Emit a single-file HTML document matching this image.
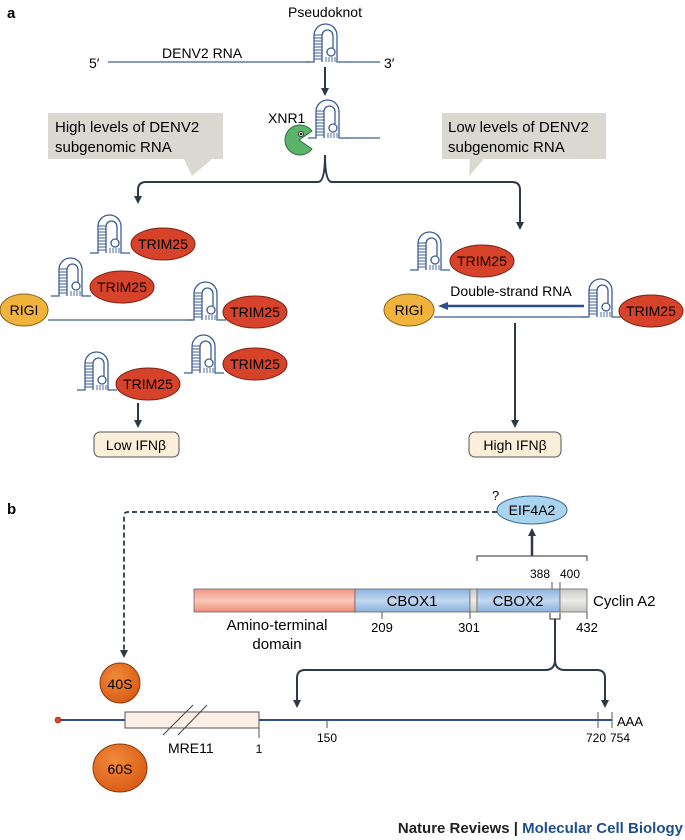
<!DOCTYPE html>
<html><head><meta charset="utf-8"><style>
html,body{margin:0;padding:0;background:#fff;}
svg{display:block;font-family:"Liberation Sans",sans-serif;}
</style></head><body>
<svg width="685" height="840" viewBox="0 0 685 840" xmlns="http://www.w3.org/2000/svg">
<defs>
<g id="pk" fill="none" stroke="#3d5d95" stroke-width="1.3">
<path d="M-6,0 L2,0 L2,-26.5 A11.5,11.5 0 0 1 25,-26.5 L25,0 L34,0"/>
<path d="M10,0 L10,-26.5 A5.5,5.5 0 0 1 21,-26.5 L21,-14"/>
<circle cx="19" cy="-10" r="4" fill="#fff"/>
<path d="M2,-3H10M2,-6H10M2,-9H10M2,-12H10M2,-15H10M2,-18H10M2,-21H10M2,-24H10M2,-27H10M14,0V-5M17,0V-5M20,0V-5M23,0V-5" stroke-width="0.9"/>
</g>
<marker id="ah" markerWidth="8" markerHeight="8" refX="6" refY="4" orient="auto" markerUnits="userSpaceOnUse">
<path d="M0,0 L8,4 L0,8 Z" fill="#2b3a48"/></marker>
<marker id="ahb" markerWidth="10" markerHeight="8" refX="2" refY="4" orient="auto" markerUnits="userSpaceOnUse">
<path d="M0,0 L10,4 L0,8 Z" fill="#2d4f8c"/></marker>
</defs>

<!-- panel a -->
<text x="7" y="18" font-size="15" font-weight="bold">a</text>
<text x="325" y="17" font-size="14" text-anchor="middle">Pseudoknot</text>
<text x="162" y="58" font-size="14">DENV2 RNA</text>
<text x="89" y="68" font-size="14">5′</text>
<text x="384" y="68" font-size="14">3′</text>
<line x1="108" y1="62" x2="310" y2="62" stroke="#3d5d95" stroke-width="1.3"/>
<use href="#pk" x="312" y="62"/>
<line x1="345" y1="62" x2="380" y2="62" stroke="#3d5d95" stroke-width="1.3"/>
<line x1="325" y1="67" x2="325" y2="94" stroke="#2b3a48" stroke-width="2" marker-end="url(#ah)"/>
<use href="#pk" x="314" y="138"/>
<line x1="346" y1="138" x2="380" y2="138" stroke="#3d5d95" stroke-width="1.3"/>
<text x="268" y="123" font-size="14">XNR1</text>
<path d="M299,140 L312,131 A15,15 0 1 0 312,149 Z" fill="#5cb46a" stroke="#2f6b3a" stroke-width="1"/>
<circle cx="301" cy="134" r="2.6" fill="#fff" stroke="#222" stroke-width="0.8"/><circle cx="301" cy="134" r="1.3" fill="#111"/>

<path d="M48,113 H223 V159 H212 L192,176 L184,159 H48 Z" fill="#d9d8d1"/>
<text x="55" y="132" font-size="15">High levels of DENV2</text>
<text x="55" y="152" font-size="15">subgenomic RNA</text>
<path d="M442,113 H606 V159 H484 L469,176 L470,159 H442 Z" fill="#d9d8d1"/>
<text x="448" y="132" font-size="15">Low levels of DENV2</text>
<text x="448" y="152" font-size="15">subgenomic RNA</text>

<path d="M325,155 Q325,182 318,182 H146 Q138,182 138,190 V202" fill="none" stroke="#2b3a48" stroke-width="2" marker-end="url(#ah)"/>
<path d="M325,155 Q325,182 332,182 H512 Q520,182 520,190 V228" fill="none" stroke="#2b3a48" stroke-width="2" marker-end="url(#ah)"/>

<!-- left group -->
<g font-size="14" text-anchor="middle">
<use href="#pk" x="96" y="253"/>
<ellipse cx="163" cy="244" rx="32" ry="16" fill="#d7432a" stroke="#7a2214"/><text x="163" y="249">TRIM25</text>
<use href="#pk" x="57" y="296"/>
<ellipse cx="122" cy="287" rx="32" ry="16" fill="#d7432a" stroke="#7a2214"/><text x="122" y="292">TRIM25</text>
<ellipse cx="24" cy="310" rx="24" ry="16" fill="#f2b33c" stroke="#8a6418"/><text x="24" y="315">RIGI</text>
<line x1="48" y1="320" x2="192" y2="320" stroke="#3d5d95" stroke-width="1.3"/>
<use href="#pk" x="192" y="320"/>
<ellipse cx="255" cy="312" rx="32" ry="16" fill="#d7432a" stroke="#7a2214"/><text x="255" y="317">TRIM25</text>
<use href="#pk" x="190" y="373"/>
<ellipse cx="255" cy="364" rx="32" ry="16" fill="#d7432a" stroke="#7a2214"/><text x="255" y="369">TRIM25</text>
<use href="#pk" x="83" y="390"/>
<ellipse cx="148" cy="384" rx="32" ry="16" fill="#d7432a" stroke="#7a2214"/><text x="148" y="389">TRIM25</text>
<line x1="138" y1="403" x2="138" y2="426" stroke="#2b3a48" stroke-width="2" marker-end="url(#ah)"/>
<rect x="94" y="432" width="85" height="25" rx="6" fill="#fcefd9" stroke="#555"/><text x="136" y="450">Low IFNβ</text>

<!-- right group -->
<use href="#pk" x="416" y="270"/>
<ellipse cx="482" cy="261" rx="32" ry="16" fill="#d7432a" stroke="#7a2214"/><text x="482" y="266">TRIM25</text>
<text x="511" y="296">Double-strand RNA</text>
<ellipse cx="409" cy="310" rx="25" ry="16" fill="#f2b33c" stroke="#8a6418"/><text x="409" y="315">RIGI</text>
<line x1="584" y1="306" x2="446" y2="306" stroke="#2d4f8c" stroke-width="2.5" marker-end="url(#ahb)"/>
<line x1="434" y1="317" x2="587" y2="317" stroke="#3d5d95" stroke-width="1.3"/>
<use href="#pk" x="587" y="317"/>
<ellipse cx="651" cy="311" rx="32" ry="16" fill="#d7432a" stroke="#7a2214"/><text x="651" y="316">TRIM25</text>
<line x1="515" y1="323" x2="515" y2="426" stroke="#2b3a48" stroke-width="2" marker-end="url(#ah)"/>
<rect x="469" y="432" width="92" height="25" rx="6" fill="#fcefd9" stroke="#555"/><text x="515" y="450">High IFNβ</text>
</g>

<!-- panel b -->
<text x="7" y="514" font-size="15" font-weight="bold">b</text>
<text x="492" y="500" font-size="13">?</text>
<path d="M497,512 H128 Q124,512 124,516 V652" fill="none" stroke="#2b3a48" stroke-width="1.8" stroke-dasharray="5,3"/>
<path d="M120,650 L124,658 L128,650 Z" fill="#2b3a48"/>
<ellipse cx="532" cy="510" rx="35" ry="14" fill="#a9d3ee" stroke="#3d6d95"/>
<text x="532" y="515" font-size="14" text-anchor="middle">EIF4A2</text>
<line x1="532" y1="556" x2="532" y2="530" stroke="#2b3a48" stroke-width="2.5" marker-end="url(#ah)"/>
<path d="M477,561 V556 H587 V561" fill="none" stroke="#555" stroke-width="1.2"/>
<text x="540" y="578" font-size="12" text-anchor="middle">388</text>
<text x="570" y="578" font-size="12" text-anchor="middle">400</text>
<line x1="552" y1="582" x2="552" y2="590" stroke="#555"/><line x1="560" y1="582" x2="560" y2="590" stroke="#555"/>
<defs>
<linearGradient id="gs" x1="0" y1="0" x2="0" y2="1"><stop offset="0" stop-color="#f29684"/><stop offset="0.5" stop-color="#fbc7b8"/><stop offset="1" stop-color="#ee8e7a"/></linearGradient>
<linearGradient id="gb" x1="0" y1="0" x2="0" y2="1"><stop offset="0" stop-color="#8cb3de"/><stop offset="0.5" stop-color="#c2d9f1"/><stop offset="1" stop-color="#8ab0dc"/></linearGradient>
<linearGradient id="gg" x1="0" y1="0" x2="0" y2="1"><stop offset="0" stop-color="#c9c9c4"/><stop offset="0.5" stop-color="#ececea"/><stop offset="1" stop-color="#c6c6c1"/></linearGradient>
<radialGradient id="go" cx="0.4" cy="0.35" r="0.7"><stop offset="0" stop-color="#f28a3a"/><stop offset="1" stop-color="#d85a14"/></radialGradient>
</defs>
<rect x="194" y="589" width="161" height="23" fill="url(#gs)" stroke="#666" stroke-width="0.8"/>
<rect x="355" y="589" width="115" height="23" fill="url(#gb)" stroke="#666" stroke-width="0.8"/>
<rect x="470" y="589" width="7" height="23" fill="url(#gg)" stroke="#666" stroke-width="0.8"/>
<rect x="477" y="589" width="83" height="23" fill="url(#gb)" stroke="#666" stroke-width="0.8"/>
<rect x="560" y="589" width="27" height="23" fill="url(#gg)" stroke="#666" stroke-width="0.8"/>
<g font-size="15" text-anchor="middle">
<text x="412" y="606">CBOX1</text><text x="518" y="606">CBOX2</text>
</g>
<text x="593" y="606" font-size="15">Cyclin A2</text>
<text x="277" y="630" font-size="15" text-anchor="middle">Amino-terminal</text>
<text x="277" y="649" font-size="15" text-anchor="middle">domain</text>
<g stroke="#555"><line x1="382" y1="612" x2="382" y2="619"/><line x1="470" y1="612" x2="470" y2="619"/><line x1="587" y1="612" x2="587" y2="619"/></g>
<g font-size="13" text-anchor="middle"><text x="382" y="632">209</text><text x="469" y="632">301</text><text x="587" y="632">432</text></g>
<path d="M550,613 V619 H560 V613" fill="none" stroke="#555" stroke-width="1.2"/>
<path d="M555,619 V660 Q555,670 545,670 H305 Q297,670 297,678 V706" fill="none" stroke="#2b3a48" stroke-width="2" marker-end="url(#ah)"/>
<path d="M555,660 Q555,670 565,670 H597 Q605,670 605,678 V706" fill="none" stroke="#2b3a48" stroke-width="2" marker-end="url(#ah)"/>

<circle cx="120" cy="683" r="20" fill="url(#go)" stroke="#8a3a0c"/>
<text x="120" y="689" font-size="14" text-anchor="middle">40S</text>
<ellipse cx="120" cy="768" rx="27" ry="24" fill="url(#go)" stroke="#8a3a0c"/>
<text x="120" y="774" font-size="14" text-anchor="middle">60S</text>
<line x1="58" y1="720" x2="612" y2="720" stroke="#2d4f8c" stroke-width="2"/>
<circle cx="58" cy="720" r="3" fill="#d9442a" stroke="#8a2a1a" stroke-width="0.6"/>
<rect x="125" y="712" width="134" height="16" fill="#fdeee6" stroke="#555"/>
<g stroke="#444" stroke-width="1"><line x1="163" y1="735" x2="193" y2="705"/><line x1="178" y1="735" x2="207" y2="705"/></g>
<line x1="259" y1="728" x2="259" y2="738" stroke="#555"/>
<text x="168" y="753" font-size="14">MRE11</text>
<text x="259" y="753" font-size="12" text-anchor="middle">1</text>
<g stroke="#555"><line x1="327" y1="720" x2="327" y2="728"/><line x1="598" y1="712" x2="598" y2="728"/><line x1="612" y1="712" x2="612" y2="728"/></g>
<g font-size="12" text-anchor="middle"><text x="327" y="742">150</text><text x="596" y="742">720</text><text x="620" y="742">754</text></g>
<text x="617" y="726" font-size="13">AAA</text>

<text x="683" y="833" font-size="15" font-weight="bold" text-anchor="end"><tspan fill="#222">Nature Reviews | </tspan><tspan fill="#1f4e8c">Molecular Cell Biology</tspan></text>
</svg>
</body></html>
